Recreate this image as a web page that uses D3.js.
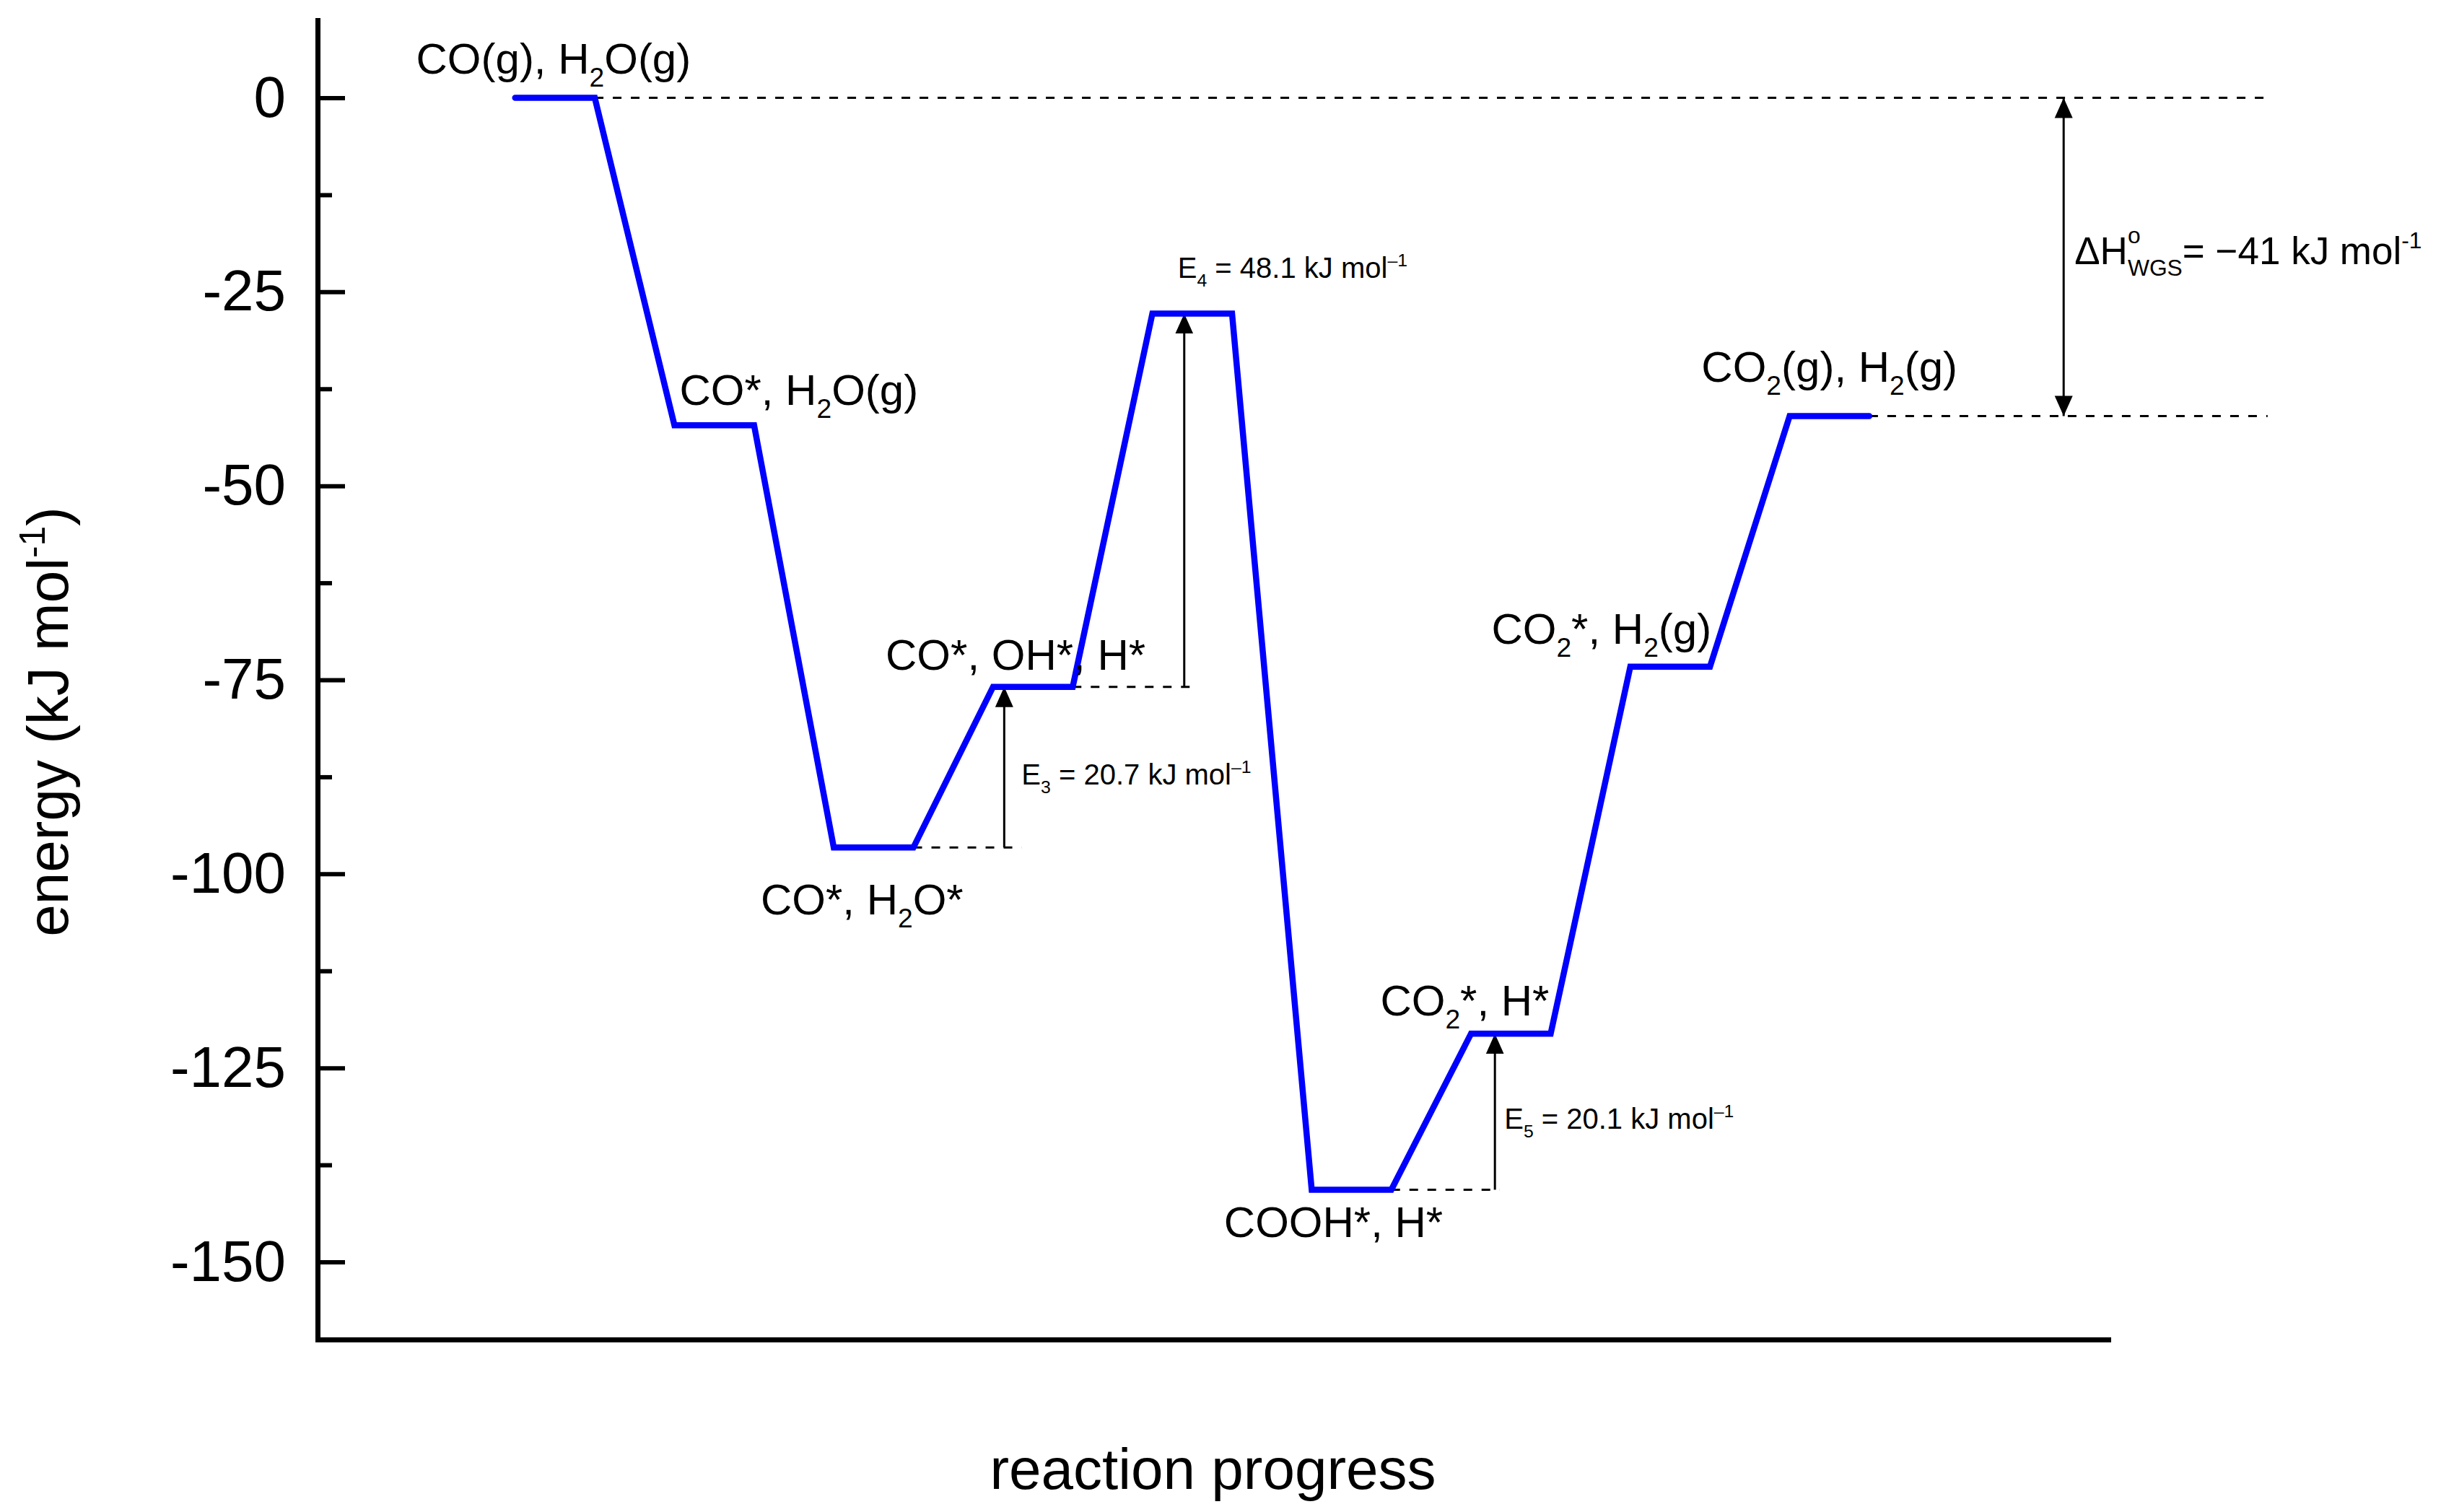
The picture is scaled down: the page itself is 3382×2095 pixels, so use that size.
<!DOCTYPE html>
<html>
<head>
<meta charset="utf-8">
<script src="https://cdn.jsdelivr.net/npm/d3@7/dist/d3.min.js"></script>
<style>
  html, body { margin: 0; padding: 0; background: #fff; }
  svg { display: block; }
  text { font-family: "Liberation Sans", Arial, Helvetica, sans-serif; fill: #000; }
</style>
</head>
<body>
<svg id="chart" width="3382" height="2095"></svg>
<script>
// ---------------- data ----------------
const stepIndex   = [0, 1, 2, 3, 4, 5, 6, 7, 8];
const levelEnergy = [0, -42.2, -96.6, -75.9, -27.8, -140.7, -120.6, -73.3, -41.0];
const levelNames  = [
  "CO(g), H_{2}O(g)",
  "CO*, H_{2}O(g)",
  "CO*, H_{2}O*",
  "CO*, OH*, H*",
  "",
  "COOH*, H*",
  "CO_{2}*, H*",
  "CO_{2}*, H_{2}(g)",
  "CO_{2}(g), H_{2}(g)"
];
const barrierNames  = ["E_{3}", "E_{4}", "E_{5}"];
const barrierValues = [20.7, 48.1, 20.1];
const barrierFrom   = [2, 3, 5];   // index of lower level
const barrierTo     = [3, 4, 6];   // index of upper level
const reactionEnthalpy = -41;
const majorTicks = [0, -25, -50, -75, -100, -125, -150];
const minorTicks = [-12.5, -37.5, -62.5, -87.5, -112.5, -137.5];
const xTitle = "reaction progress";
const yTitle = "energy (kJ mol^{-1})";

// ---------------- layout ----------------
const W = 3382, H = 2095;
const svg = d3.select("#chart");
const x = d3.scaleLinear().domain([-1.24, 10]).range([440, 2921]);
const y = d3.scaleLinear().domain([-160, 10]).range([1856, 28]);
const levelWidth = 0.5;
const FONT_LABEL = 60, FONT_E = 40, FONT_DH = 53, FONT_TICK = 80, FONT_TITLE = 80;

function rich(sel, str, fs) {
  const parts = str.split(/(_\{[^}]*\}|\^\{[^}]*\})/).filter(s => s.length);
  let shift = 0;
  parts.forEach(p => {
    let target = 0, size = fs, txt = p;
    if (p.startsWith("_{")) { target = 0.30 * fs; size = 0.62 * fs; txt = p.slice(2, -1); }
    else if (p.startsWith("^{")) { target = -0.40 * fs; size = 0.62 * fs; txt = p.slice(2, -1); }
    sel.append("tspan").attr("dy", target - shift).attr("font-size", size).text(txt);
    shift = target;
  });
  return sel;
}

// arrow markers
const defs = svg.append("defs");
defs.append("marker").attr("id", "headEnd")
  .attr("markerUnits", "userSpaceOnUse").attr("markerWidth", 28).attr("markerHeight", 28)
  .attr("viewBox", "0 0 28 28").attr("refX", 28).attr("refY", 14).attr("orient", "auto")
  .append("path").attr("d", "M0,1.5 L28,14 L0,26.5 Z").attr("fill", "#000");
defs.append("marker").attr("id", "headStart")
  .attr("markerUnits", "userSpaceOnUse").attr("markerWidth", 28).attr("markerHeight", 28)
  .attr("viewBox", "0 0 28 28").attr("refX", 0).attr("refY", 14).attr("orient", "auto")
  .append("path").attr("d", "M28,1.5 L0,14 L28,26.5 Z").attr("fill", "#000");

// ---------------- axes ----------------
const tickFmt = d => String(d).replace("\u2212", "-");
const yMajor = d3.axisLeft(y).tickValues(majorTicks).tickSizeInner(-38).tickSizeOuter(0)
  .tickPadding(44).tickFormat(tickFmt);
const gy = svg.append("g").attr("transform", `translate(${x.range()[0]},0)`).call(yMajor);
gy.selectAll(".tick line").attr("stroke", "#000").attr("stroke-width", 6);
gy.selectAll(".tick text").attr("font-size", FONT_TICK)
  .attr("font-family", '"Liberation Sans", Arial, sans-serif').attr("fill", "#000");
gy.select(".domain").attr("stroke", "#000").attr("stroke-width", 7).attr("stroke-linecap", "square");

const yMinor = d3.axisLeft(y).tickValues(minorTicks).tickSizeInner(-20).tickSizeOuter(0).tickFormat("");
const gym = svg.append("g").attr("transform", `translate(${x.range()[0]},0)`).call(yMinor);
gym.selectAll(".tick line").attr("stroke", "#000").attr("stroke-width", 6);
gym.select(".domain").remove();

const xAxis = d3.axisBottom(x).tickValues([]).tickSizeOuter(0);
const gx = svg.append("g").attr("transform", `translate(0,${y.range()[0]})`).call(xAxis);
gx.select(".domain").attr("stroke", "#000").attr("stroke-width", 7).attr("stroke-linecap", "square");

// axis titles
rich(svg.append("text").attr("x", d3.mean(x.range())).attr("y", 2063)
  .attr("text-anchor", "middle").attr("font-size", FONT_TITLE), xTitle, FONT_TITLE);
rich(svg.append("text").attr("transform", "translate(94,1000) rotate(-90)")
  .attr("text-anchor", "middle").attr("font-size", FONT_TITLE), yTitle, FONT_TITLE);

// ---------------- dashed reference lines ----------------
const dashStyle = g => g.attr("stroke", "#000").attr("stroke-width", 3).attr("stroke-dasharray", "12,13").attr("fill", "none");
const arrowX = [3.07, 4.2, 6.15];
const dashEnds = [3.18, 4.28, 6.18];
const dashSegs = [
  { x1: stepIndex[0] + levelWidth, x2: 11, e: levelEnergy[0] },
  { x1: stepIndex[8] + levelWidth, x2: 11, e: levelEnergy[8] }
];
barrierFrom.forEach((f, i) => dashSegs.push({ x1: stepIndex[f] + levelWidth, x2: dashEnds[i], e: levelEnergy[f] }));
svg.append("g").selectAll("line").data(dashSegs).join("line")
  .attr("x1", d => x(d.x1)).attr("x2", d => x(d.x2))
  .attr("y1", d => y(d.e)).attr("y2", d => y(d.e))
  .call(dashStyle);

// ---------------- barrier arrows ----------------
barrierFrom.forEach((f, i) => {
  const lo = levelEnergy[f], hi = lo + barrierValues[i];
  svg.append("line")
    .attr("x1", x(arrowX[i])).attr("x2", x(arrowX[i]))
    .attr("y1", y(lo)).attr("y2", y(hi))
    .attr("stroke", "#000").attr("stroke-width", 3).attr("marker-end", "url(#headEnd)");
});
// enthalpy double arrow
const dhX = 9.72;
svg.append("line")
  .attr("x1", x(dhX)).attr("x2", x(dhX))
  .attr("y1", y(0)).attr("y2", y(reactionEnthalpy))
  .attr("stroke", "#000").attr("stroke-width", 3)
  .attr("marker-start", "url(#headStart)").attr("marker-end", "url(#headEnd)");

// ---------------- energy profile ----------------
const pts = [];
stepIndex.forEach((s, i) => { pts.push([s, levelEnergy[i]]); pts.push([s + levelWidth, levelEnergy[i]]); });
svg.append("path").datum(pts)
  .attr("d", d3.line().x(d => x(d[0])).y(d => y(d[1])))
  .attr("fill", "none").attr("stroke", "#0000FF").attr("stroke-width", 8.5)
  .attr("stroke-linejoin", "miter").attr("stroke-linecap", "round");

// ---------------- state labels ----------------
// [anchor, reference point on level ('c','l','r'), dx, dy]
const labelLayout = [
  ["middle", "c", -2, -34],
  ["start",  "l",  7, -28],
  ["middle", "c", -16, 93],
  ["middle", "c", -24, -24],
  ["middle", "c", 0, -30],
  ["middle", "c", -25, 66],
  ["end",    "r", -2, -25],
  ["end",    "r",  2, -32],
  ["middle", "c",  0, -47]
];
levelNames.forEach((name, i) => {
  if (!name) return;
  const [anchor, ref, dx, dy] = labelLayout[i];
  const xl = x(stepIndex[i]), xr = x(stepIndex[i] + levelWidth);
  const xp = ref === "l" ? xl : ref === "r" ? xr : (xl + xr) / 2;
  rich(svg.append("text").attr("x", xp + dx).attr("y", y(levelEnergy[i]) + dy)
    .attr("text-anchor", anchor).attr("font-size", FONT_LABEL), name, FONT_LABEL);
});

// ---------------- barrier labels ----------------
const eLayout = [
  { dx: 24, mode: "mid", dy: 24 },
  { dx: -9, mode: "top", dy: -49 },
  { dx: 13, mode: "mid", dy: 24 }
];
barrierNames.forEach((n, i) => {
  const lo = levelEnergy[barrierFrom[i]], hi = lo + barrierValues[i];
  const L = eLayout[i];
  const yp = L.mode === "mid" ? (y(lo) + y(hi)) / 2 + L.dy : y(hi) + L.dy;
  const str = `${n} = ${barrierValues[i].toFixed(1)} kJ mol^{\u20131}`;
  rich(svg.append("text").attr("x", x(arrowX[i]) + L.dx).attr("y", yp)
    .attr("font-size", FONT_E), str, FONT_E);
});

// enthalpy label: ΔH with stacked ° and WGS subscript
{
  const fs = FONT_DH;
  const t = svg.append("text")
    .attr("x", x(dhX) + 15).attr("y", (y(0) + y(reactionEnthalpy)) / 2 + 10)
    .attr("font-size", fs);
  t.append("tspan").text("\u0394H");
  t.append("tspan").attr("dy", -0.55 * fs).attr("font-size", 0.6 * fs).text("o");
  t.append("tspan").attr("dx", -0.6 * fs * 0.556).attr("dy", 0.85 * fs).attr("font-size", 0.6 * fs).text("WGS");
  t.append("tspan").attr("dy", -0.30 * fs).text("= \u2212" + Math.abs(reactionEnthalpy) + " kJ mol");
  t.append("tspan").attr("dy", -0.42 * fs).attr("font-size", 0.6 * fs).text("-1");
}
</script>
</body>
</html>
